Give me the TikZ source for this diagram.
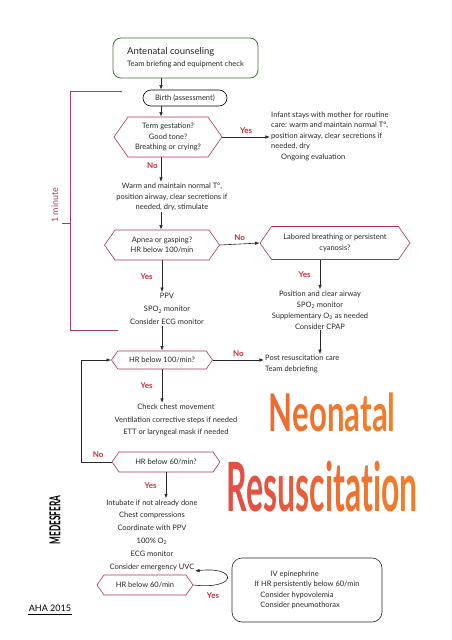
\documentclass[tikz,border=0pt]{standalone}
\usepackage{fontspec}
\setmainfont{Lato}
\usepackage{graphicx}
\usepackage{tikz}
\usetikzlibrary{arrows.meta, positioning, shapes.symbols, shapes.misc, calc}
\definecolor{FrameGreen}{RGB}{72,112,62}
\definecolor{HexRed}{RGB}{168,52,82}
\definecolor{NoteRed}{RGB}{200,45,60}
\definecolor{MinuteRed}{RGB}{170,62,92}
\definecolor{TitleOrange}{RGB}{242,128,40}
\definecolor{TitleRed}{RGB}{226,72,70}
\definecolor{InkGray}{RGB}{40,40,40}
\tikzset{
  arr/.style={-{Latex[length=1.6mm,width=1.2mm]}, semithick, InkGray},
  hexa/.style={shape=signal, signal to=west and east, signal pointer angle=110, draw=HexRed, semithick},
  note/.style={inner sep=1pt, align=center, text=InkGray, font=\fontsize{7.5}{10.5}\selectfont},
  yesno/.style={inner sep=1pt, text=NoteRed, font=\fontsize{8}{9}\selectfont\bfseries},
  titlefont/.style={inner sep=0pt, font=\fontsize{#1}{#1}\selectfont\bfseries}
}
\newcommand{\tl}[2]{\textcolor{TitleRed!#1!TitleOrange}{#2}}

\begin{document}
\begin{tikzpicture}[x=1pt,y=-1pt]
\useasboundingbox (0,0) rectangle (452,640);

\coordinate (spine) at (161,0);

\node[draw=FrameGreen, thick, rounded corners=8pt, minimum width=145pt, minimum height=40pt,
  note, align=left, font=\fontsize{7.5}{12}\selectfont] (antenatal) at (185.5,58)
  {{\fontsize{9.5}{12}\selectfont Antenatal counseling}\\Team briefing and equipment check};
\node[draw, semithick, rounded rectangle, minimum width=86pt, minimum height=16pt, note] (birth) at (185,98) {Birth (assessment)};
\draw[arr] (antenatal.south -| spine) -- (birth.north -| spine);

\node[hexa, note, minimum width=108pt, minimum height=40pt] (term) at (168,137) {Term gestation?\\Good tone?\\Breathing or crying?};
\draw[arr] (birth.south -| spine) -- (term.north -| spine);
\node[note, align=left, anchor=west] (infant) at (270,136)
  {Infant stays with mother for routine\\care: warm and maintain normal T°,\\position airway, clear secretions if\\needed, dry\\\hspace{10pt}Ongoing evaluation};
\draw[arr] (term.east) -- (term.east -| infant.west) node[yesno, midway, above=2pt] {Yes};

\node[note] (warm) at (172,197) {Warm and maintain normal T°,\\position airway, clear secretions if\\needed, dry, stimulate};
\draw[arr] (term.south -| spine) -- (warm.north -| spine) node[yesno, pos=0.35, left=2pt] {No};

\node[hexa, note, minimum width=115pt, minimum height=30pt] (apnea) at (162,245) {Apnea or gasping?\\HR below 100/min};
\draw[arr] (warm.south -| spine) -- (apnea.north -| spine);
\node[hexa, note, minimum width=150pt, minimum height=33pt] (labored) at (335,243) {Labored breathing or persistent\\cyanosis?};
\draw[arr] (apnea.east) -- (labored.west) node[yesno, midway, above=2pt] {No};

\node[note, font=\fontsize{7.5}{13}\selectfont] (ppv) at (167,309) {PPV\\SPO\textsubscript{2} monitor\\Consider ECG monitor};
\draw[arr] (apnea.south) -- (apnea.south |- ppv.north) node[yesno, midway, left=8pt] {Yes};
\node[note, font=\fontsize{7.5}{11}\selectfont] (position) at (320,310)
  {Position and clear airway\\SPO\textsubscript{2} monitor\\Supplementary O\textsubscript{2} as needed\\Consider CPAP};
\draw[arr] (labored.south -| position.north) -- (position.north) node[yesno, midway, left=8pt] {Yes};

\draw[MinuteRed, semithick] (122,91) -| (70,330) -- (118,330);
\draw[MinuteRed, semithick] (62,223) -- (70,223);
\node[rotate=90, text=MinuteRed, font=\fontsize{9}{9}\selectfont] (minute) at (55,205) {1 minute};

\node[hexa, note, minimum width=101pt, minimum height=18pt] (hr100) at (162,360) {HR below 100/min?};
\draw[arr] (ppv.south -| hr100.north) -- (hr100.north);
\node[note, align=left, anchor=west] (post) at (264,364) {Post resuscitation care\\Team debriefing};
\draw[arr] (position.south) -- (position.south |- post.north);
\draw[arr] (hr100.east) -- (hr100.east -| post.west) node[yesno, midway, above=2pt] {No};

\node[note, font=\fontsize{7.5}{12.5}\selectfont] (check) at (176,420)
  {Check chest movement\\Ventilation corrective steps if needed\\ETT or laryngeal mask if needed};
\draw[arr] (hr100.south) -- (hr100.south |- check.north) node[yesno, midway, left=8pt] {Yes};

\node[hexa, note, minimum width=108pt, minimum height=20pt] (hr60) at (166,462) {HR below 60/min?};
\draw[arr] (hr60.west) -- ++(-30,0) node[yesno, pos=0.45, above=3pt] {No} |- (hr100.west);

\node[note, font=\fontsize{7.5}{12.8}\selectfont] (intubate) at (152,535)
  {Intubate if not already done\\Chest compressions\\Coordinate with PPV\\100\% O\textsubscript{2}\\ECG monitor\\Consider emergency UVC};
\draw[arr] (hr60.south) -- (hr60.south |- intubate.north) node[yesno, midway, left=8pt] {Yes};

\node[hexa, note, minimum width=96pt, minimum height=20pt] (hrlast) at (145,585) {HR below 60/min};
\coordinate (uvcend) at (195,571);
\draw[arr] (hrlast.east) .. controls (238,590) and (238,566) .. (uvcend);
\node[yesno] (yeslast) at (213,596) {Yes};

\node[draw, semithick, InkGray, rounded corners=10pt, minimum width=150pt, minimum height=64pt, note, align=left] (epi) at (307,590)
  {\hspace{16pt}IV epinephrine\\If HR persistently below 60/min\\\hspace{6pt}Consider hypovolemia\\\hspace{6pt}Consider pneumothorax};

\node[titlefont=52, xscale=0.6] (neonatal) at (332,412)
  {\tl{35}{N}\tl{25}{e}\tl{20}{o}\tl{15}{n}\tl{10}{a}\tl{5}{t}\tl{5}{a}\tl{0}{l}};
\node[titlefont=68, xscale=0.47] (resus) at (322,487)
  {\tl{90}{R}\tl{85}{e}\tl{80}{s}\tl{70}{u}\tl{60}{s}\tl{50}{c}\tl{40}{i}\tl{30}{t}\tl{25}{a}\tl{20}{t}\tl{15}{i}\tl{10}{o}\tl{5}{n}};

\node[rotate=90, inner sep=0pt, font=\fontsize{15}{15}\selectfont\bfseries] (brand) at (55,520) {\scalebox{0.55}[1]{MEDESFERA}};
\node[inner sep=1pt, font=\fontsize{9}{9}\selectfont] (aha) at (50,608) {AHA 2015};
\draw[semithick] ([yshift=-2pt]aha.south west) -- ([yshift=-2pt]aha.south east);
\end{tikzpicture}
\end{document}
